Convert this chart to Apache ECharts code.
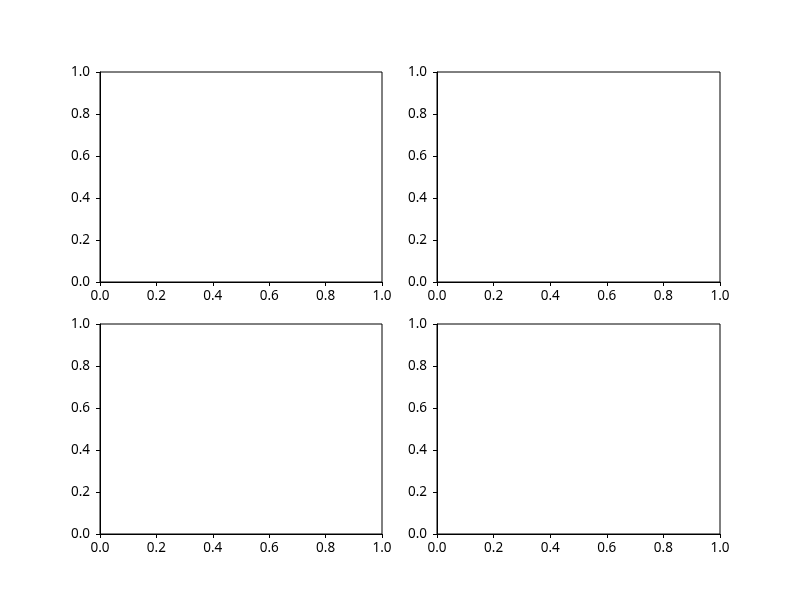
<!DOCTYPE html>
<html>
<head>
<meta charset="utf-8">
<script src="https://cdn.jsdelivr.net/npm/echarts@6/dist/echarts.min.js"></script>
<style>html,body{margin:0;padding:0;background:#fff}#c{width:800px;height:600px}</style>
</head>
<body>
<div id="c"></div>
<script>
const axisMin = 0;
const axisMax = 1;
const tickStep = 0.2;
const tickLabels = ['0.0', '0.2', '0.4', '0.6', '0.8', '1.0'];
const panels = [
  { left: 100, top: 72, width: 282, height: 210 },
  { left: 437, top: 72, width: 283, height: 210 },
  { left: 100, top: 324, width: 282, height: 210 },
  { left: 437, top: 324, width: 283, height: 210 }
];
const font = { fontFamily: 'Noto Sans', fontSize: 13.5, color: '#000' };
function axis(type, i) {
  return {
    type: 'value', gridIndex: i, min: axisMin, max: axisMax, interval: tickStep,
    axisLine: { show: true, onZero: false, lineStyle: { color: '#000', width: 1 } },
    axisTick: { show: true, inside: false, length: 4, lineStyle: { color: '#000', width: 1 } },
    splitLine: { show: false },
    axisLabel: Object.assign({ margin: type === 'x' ? 7 : 10, formatter: v => tickLabels[Math.round(v / tickStep)] }, font)
  };
}
const option = {
  animation: false,
  backgroundColor: '#fff',
  grid: panels.map(p => Object.assign({ show: true, borderColor: '#000', borderWidth: 1, backgroundColor: 'transparent' }, p)),
  xAxis: panels.map((p, i) => axis('x', i)),
  yAxis: panels.map((p, i) => axis('y', i)),
  series: panels.map((p, i) => ({ type: 'line', xAxisIndex: i, yAxisIndex: i, data: [] }))
};
echarts.init(document.getElementById('c')).setOption(option);
</script>
</body>
</html>
